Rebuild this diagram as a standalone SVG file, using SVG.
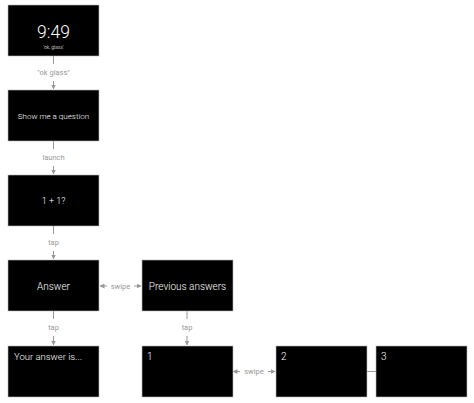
<svg xmlns="http://www.w3.org/2000/svg" width="474" height="403" viewBox="0 0 474 403">
<style>
.box{fill:#000;stroke:#bbb;stroke-width:0.6}
.t{fill:#fff;font-family:Roboto,"Liberation Sans",sans-serif;font-weight:300}
.c{text-anchor:middle}
.line{stroke:#999;stroke-width:1;fill:none}
.lbl{fill:#999;font-family:Roboto,"Liberation Sans",sans-serif;font-size:7.5px;text-anchor:middle}
</style>
<defs>
<marker id="ah" viewBox="0 0 10 10" refX="9" refY="5" markerWidth="5" markerHeight="5" orient="auto-start-reverse" markerUnits="userSpaceOnUse">
<path d="M0,0 L10,5 L0,10 Z" fill="#999"/>
</marker>
</defs>
<rect width="474" height="403" fill="#fff"/>
<g id="connectors">
<line class="line" x1="53.5" y1="56" x2="53.5" y2="64"/>
<text class="lbl" x="53.5" y="75">"ok glass"</text>
<line class="line" x1="53.5" y1="81" x2="53.5" y2="89" marker-end="url(#ah)"/>
<line class="line" x1="53.5" y1="141" x2="53.5" y2="149"/>
<text class="lbl" x="53.5" y="160">launch</text>
<line class="line" x1="53.5" y1="166" x2="53.5" y2="174" marker-end="url(#ah)"/>
<line class="line" x1="53.5" y1="226" x2="53.5" y2="234"/>
<text class="lbl" x="53.5" y="245">tap</text>
<line class="line" x1="53.5" y1="251" x2="53.5" y2="259" marker-end="url(#ah)"/>
<line class="line" x1="53.5" y1="311" x2="53.5" y2="319"/>
<text class="lbl" x="53.5" y="330">tap</text>
<line class="line" x1="53.5" y1="336" x2="53.5" y2="345" marker-end="url(#ah)"/>
<line class="line" x1="187" y1="311" x2="187" y2="319"/>
<text class="lbl" x="187" y="330">tap</text>
<line class="line" x1="187" y1="336" x2="187" y2="345" marker-end="url(#ah)"/>
<line class="line" x1="100" y1="286" x2="107" y2="286" marker-start="url(#ah)"/>
<text class="lbl" x="120.5" y="288.5">swipe</text>
<line class="line" x1="134" y1="286" x2="141" y2="286" marker-end="url(#ah)"/>
<line class="line" x1="233" y1="371.5" x2="240" y2="371.5" marker-start="url(#ah)"/>
<text class="lbl" x="254" y="374">swipe</text>
<line class="line" x1="268" y1="371.5" x2="275" y2="371.5" marker-end="url(#ah)"/>
<line class="line" x1="367" y1="371.5" x2="376" y2="371.5"/>
</g>
<g id="clock">
<rect class="box" x="8" y="5" width="91" height="51"/>
<text class="t c" x="53.5" y="38" font-size="17.5">9:49</text>
<text class="t c" x="53.5" y="49" font-size="5">'ok, glass'</text>
</g>
<g id="show">
<rect class="box" x="8" y="90" width="91" height="51"/>
<text class="t c" x="53.5" y="119" font-size="8">Show me a question</text>
</g>
<g id="question">
<rect class="box" x="8" y="175" width="91" height="51"/>
<text class="t c" x="53.5" y="204" font-size="9">1 + 1?</text>
</g>
<g id="answer">
<rect class="box" x="8" y="260" width="91" height="51"/>
<text class="t c" x="53.5" y="289.5" font-size="10">Answer</text>
</g>
<g id="previous">
<rect class="box" x="142" y="260" width="91" height="51"/>
<text class="t c" x="187.5" y="289.5" font-size="10">Previous answers</text>
</g>
<g id="result">
<rect class="box" x="8" y="346" width="91" height="51"/>
<text class="t" x="14" y="360" font-size="9.5">Your answer is...</text>
</g>
<g id="prev1">
<rect class="box" x="142" y="346" width="91" height="51"/>
<text class="t" x="147" y="360" font-size="10">1</text>
</g>
<g id="prev2">
<rect class="box" x="276" y="346" width="91" height="51"/>
<text class="t" x="281" y="360" font-size="10">2</text>
</g>
<g id="prev3">
<rect class="box" x="376" y="346" width="91" height="51"/>
<text class="t" x="381" y="360" font-size="10">3</text>
</g>
</svg>
